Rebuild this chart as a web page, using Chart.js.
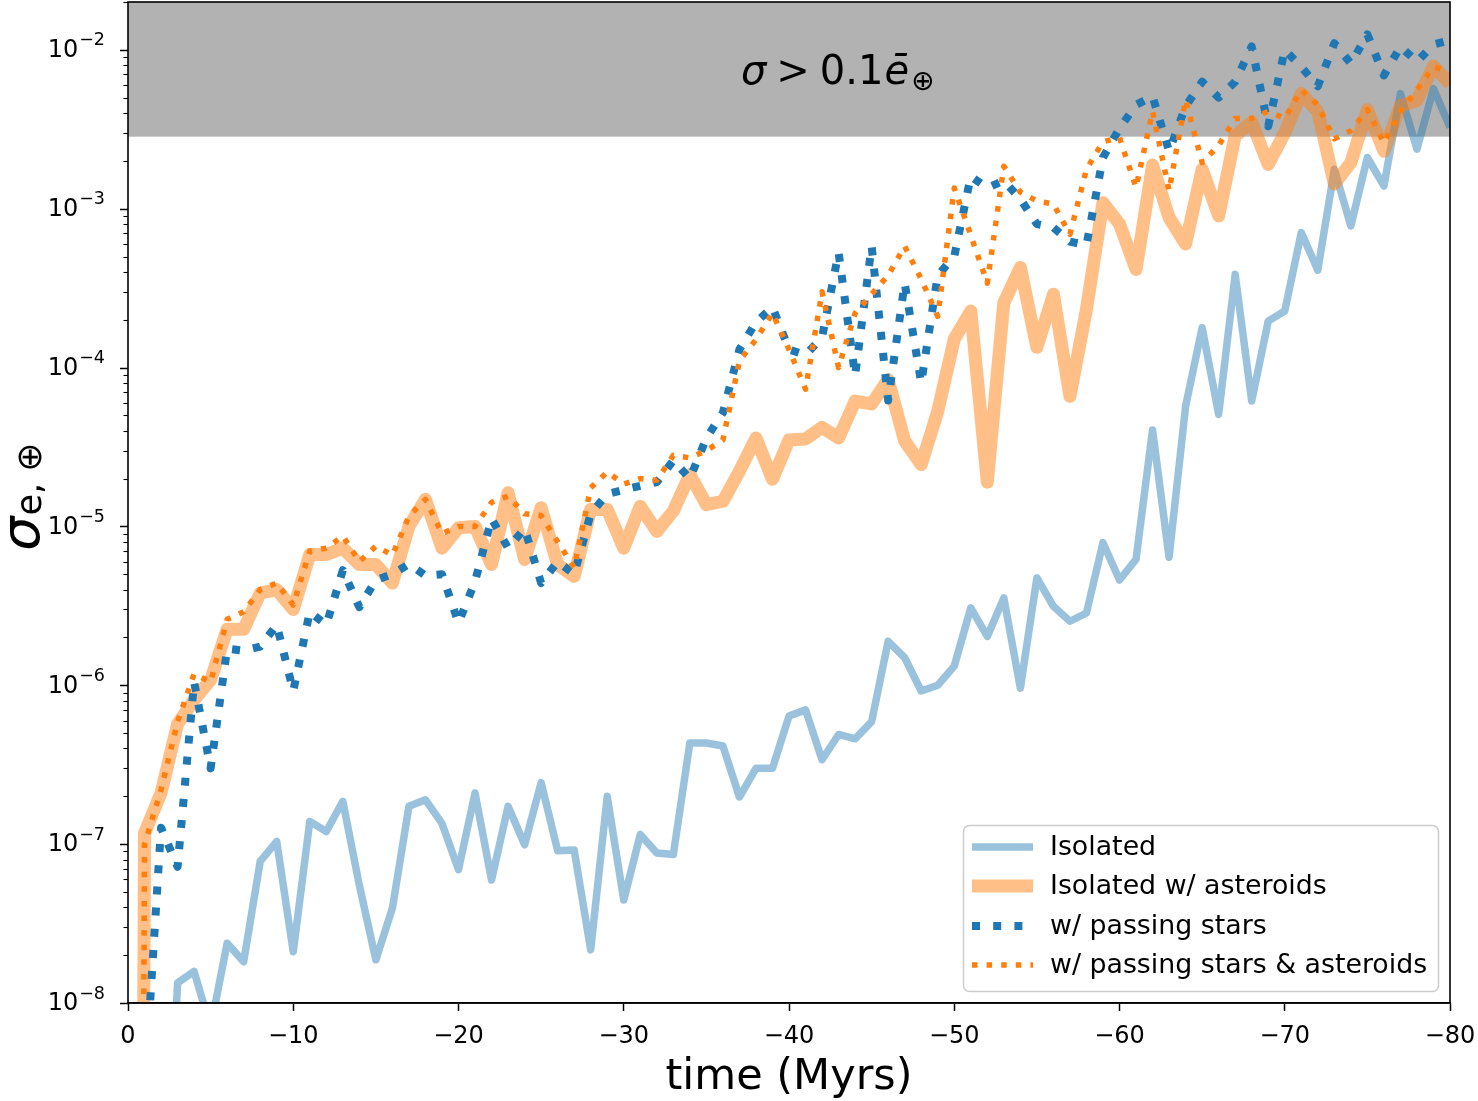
<!DOCTYPE html>
<html>
<head>
<meta charset="utf-8">
<script src="https://cdn.jsdelivr.net/npm/chart.js@4.4.1/dist/chart.umd.min.js"></script>
<style>
  html, body { margin: 0; padding: 0; background: #fff; }
  canvas { display: block; }
</style>
</head>
<body>
<canvas id="chart" width="1478" height="1101"></canvas>
<script>
// time in Myrs (0 .. -80)
const times = [0, -1, -2, -3, -4, -5, -6, -7, -8, -9, -10, -11, -12, -13, -14, -15, -16, -17, -18, -19, -20,
  -21, -22, -23, -24, -25, -26, -27, -28, -29, -30, -31, -32, -33, -34, -35, -36, -37, -38, -39, -40,
  -41, -42, -43, -44, -45, -46, -47, -48, -49, -50, -51, -52, -53, -54, -55, -56, -57, -58, -59, -60,
  -61, -62, -63, -64, -65, -66, -67, -68, -69, -70, -71, -72, -73, -74, -75, -76, -77, -78, -79, -80];

// sigma_e values (1e-30 stands for zero at t = 0)
const isolated = [1e-30, 1e-10, 1e-10, 1.34e-8, 1.58e-8, 7e-9, 2.38e-8, 1.82e-8, 7.8e-8, 1.04e-7, 2.1e-8,
  1.39e-7, 1.2e-7, 1.86e-7, 5.5e-8, 1.87e-8, 3.95e-8, 1.73e-7, 1.9e-7, 1.35e-7, 6.9e-8,
  2.1e-7, 5.95e-8, 1.73e-7, 9.9e-8, 2.44e-7, 9.1e-8, 9.2e-8, 2.16e-8, 2.0e-7, 4.45e-8,
  1.15e-7, 8.8e-8, 8.6e-8, 4.33e-7, 4.33e-7, 4.15e-7, 1.98e-7, 3.0e-7, 3.0e-7, 6.4e-7,
  7.0e-7, 3.4e-7, 4.9e-7, 4.6e-7, 5.9e-7, 1.89e-6, 1.49e-6, 9.2e-7, 1.0e-6, 1.32e-6,
  3.07e-6, 2.03e-6, 3.55e-6, 9.6e-7, 4.74e-6, 3.14e-6, 2.53e-6, 2.85e-6, 7.9e-6, 4.6e-6,
  6.2e-6, 4.05e-5, 6.4e-6, 5.7e-5, 1.78e-4, 5.07e-5, 3.86e-4, 6.15e-5, 1.96e-4, 2.27e-4,
  7.07e-4, 4.1e-4, 1.77e-3, 7.8e-4, 2.1e-3, 1.39e-3, 5.3e-3, 2.37e-3, 5.7e-3, 3.25e-3];

const isolatedAsteroids = [1e-30, 1.17e-7, 2.1e-7, 5.7e-7, 8.1e-7, 1.08e-6, 2.25e-6, 2.25e-6, 3.8e-6, 4.0e-6, 3.0e-6,
  6.65e-6, 6.65e-6, 7.3e-6, 5.75e-6, 5.75e-6, 4.4e-6, 1.0e-5, 1.48e-5, 7.3e-6, 9.8e-6,
  1.0e-5, 5.75e-6, 1.63e-5, 6.2e-6, 1.31e-5, 5.75e-6, 4.85e-6, 1.28e-5, 1.28e-5, 7.3e-6,
  1.34e-5, 9.3e-6, 1.25e-5, 2.12e-5, 1.37e-5, 1.44e-5, 2.23e-5, 3.6e-5, 1.98e-5, 3.5e-5,
  3.55e-5, 4.2e-5, 3.6e-5, 6.15e-5, 5.9e-5, 8.4e-5, 3.45e-5, 2.45e-5, 5.3e-5, 1.51e-4,
  2.27e-4, 1.9e-5, 2.56e-4, 4.27e-4, 1.34e-4, 2.89e-4, 6.6e-5, 2.33e-4, 1.09e-3, 8.0e-4,
  4.15e-4, 1.88e-3, 8.8e-4, 6.0e-4, 1.77e-3, 9.0e-4, 2.88e-3, 3.5e-3, 1.9e-3, 3.0e-3,
  5.3e-3, 4.1e-3, 1.43e-3, 1.95e-3, 4.2e-3, 2.3e-3, 4.45e-3, 4.8e-3, 7.9e-3, 6.1e-3];

const passingStars = [1e-30, 2.8e-9, 1.27e-7, 7.2e-8, 1.05e-6, 3.0e-7, 1.7e-6, 1.65e-6, 1.75e-6, 2.4e-6, 9.2e-7,
  2.9e-6, 2.4e-6, 5.3e-6, 3.1e-6, 4.6e-6, 5.0e-6, 5.8e-6, 4.9e-6, 5.0e-6, 2.47e-6,
  4.5e-6, 1.12e-5, 7.3e-6, 9.7e-6, 4.4e-6, 6.0e-6, 5.0e-6, 1.2e-5, 1.6e-5, 1.7e-5,
  1.8e-5, 1.9e-5, 2.6e-5, 2.0e-5, 3.6e-5, 5.2e-5, 1.3e-4, 1.93e-4, 2.4e-4, 1.3e-4,
  1.2e-4, 1.55e-4, 5.3e-4, 8.9e-5, 5.8e-4, 6.2e-5, 3.4e-4, 8.0e-5, 3.8e-4, 5.0e-4,
  1.6e-3, 1.35e-3, 1.5e-3, 1.15e-3, 8.0e-4, 7.6e-4, 6.2e-4, 5.9e-4, 2.1e-3, 3.2e-3,
  4.5e-3, 5.1e-3, 2.3e-3, 4.4e-3, 6.3e-3, 5.0e-3, 6.3e-3, 1.05e-2, 3.3e-3, 1.0e-2,
  7.8e-3, 5.9e-3, 1.1e-2, 8.2e-3, 1.25e-2, 6.9e-3, 1.05e-2, 8.4e-3, 1.08e-2, 1.15e-2];

const passingStarsAsteroids = [1e-30, 1.0e-7, 2.2e-7, 5.9e-7, 1.18e-6, 1.05e-6, 2.6e-6, 2.9e-6, 4.0e-6, 4.4e-6, 3.2e-6,
  7.0e-6, 7.3e-6, 8.7e-6, 6.0e-6, 7.5e-6, 6.6e-6, 1.16e-5, 1.48e-5, 9.0e-6, 1.0e-5,
  1.0e-5, 1.42e-5, 1.55e-5, 1.2e-5, 1.17e-5, 8.0e-6, 5.5e-6, 1.75e-5, 2.2e-5, 1.85e-5,
  2.0e-5, 1.95e-5, 2.8e-5, 2.7e-5, 3.0e-5, 3.5e-5, 1.1e-4, 1.5e-4, 2.2e-4, 1.3e-4,
  7.3e-5, 3.0e-4, 1.0e-4, 2.2e-4, 2.9e-4, 3.8e-4, 5.8e-4, 3.6e-4, 2.1e-4, 1.35e-3,
  6.8e-4, 3.4e-4, 1.85e-3, 1.27e-3, 1.12e-3, 1.07e-3, 6.9e-4, 1.77e-3, 2.64e-3, 2.8e-3,
  1.36e-3, 4.1e-3, 1.3e-3, 4.85e-3, 1.95e-3, 2.5e-3, 3.7e-3, 3.7e-3, 4.1e-3, 3.7e-3,
  5.6e-3, 4.5e-3, 2.75e-3, 3.1e-3, 4.2e-3, 2.6e-3, 4.1e-3, 5.6e-3, 7.8e-3, 7.3e-3];

const seriesLabels = ['Isolated', 'Isolated w/ asteroids', 'w/ passing stars', 'w/ passing stars & asteroids'];
const xTicks = [0, -10, -20, -30, -40, -50, -60, -70, -80];
const yDecades = [-8, -7, -6, -5, -4, -3, -2];
const spanBottom = 2.84e-3;   // sigma > 0.1 * mean e
const yMin = 1e-8, yMax = 0.02;

const FONT = "'DejaVu Sans', sans-serif";
Chart.defaults.font.family = FONT;

function pts(arr) {
  return times.map((t, i) => ({ x: t, y: arr[i] }));
}

const deco = {
  id: 'deco',
  beforeDatasetsDraw(chart) {
    const { ctx, chartArea: a, scales: { y } } = chart;
    const yb = y.getPixelForValue(spanBottom);
    ctx.save();
    ctx.fillStyle = 'rgb(178,178,178)';
    ctx.fillRect(a.left, a.top, a.right - a.left, yb - a.top);
    ctx.restore();
  },
  afterDatasetsDraw(chart) {
    const { ctx, chartArea: a } = chart;
    ctx.save();
    ctx.fillStyle = '#000';
    ctx.textBaseline = 'alphabetic';
    let x = 741, base = 84;
    ctx.font = 'italic 40px ' + FONT;
    ctx.fillText('σ', x, base); x += ctx.measureText('σ').width + 10;
    ctx.font = '40px ' + FONT;
    ctx.fillText('>', x, base); x += ctx.measureText('>').width + 10;
    ctx.fillText('0.1', x, base); x += ctx.measureText('0.1').width + 1;
    ctx.font = 'italic 40px ' + FONT;
    ctx.fillText('ē', x, base); x += ctx.measureText('ē').width + 2;
    ctx.font = '28px ' + FONT;
    ctx.fillText('⊕', x, base + 6);
    // frame
    ctx.strokeStyle = '#000';
    ctx.lineWidth = 1.6;
    ctx.strokeRect(a.left, a.top, a.right - a.left, a.bottom - a.top);
    ctx.restore();
  },
  afterDraw(chart) {
    const { ctx, chartArea: a, scales: { y } } = chart;
    ctx.save();
    ctx.strokeStyle = '#000';
    ctx.fillStyle = '#000';
    ctx.lineWidth = 1.5;
    // y ticks (log axis)
    yDecades.forEach(d => {
      for (let m = 1; m <= 9; m++) {
        const v = m * Math.pow(10, d);
        if (v > yMax * 1.0001) break;
        const py = Math.round(y.getPixelForValue(v)) + 0.5;
        const len = m === 1 ? 8 : 4.5;
        ctx.lineWidth = m === 1 ? 1.5 : 1.1;
        ctx.beginPath();
        ctx.moveTo(a.left, py);
        ctx.lineTo(a.left - len, py);
        ctx.stroke();
      }
      const py = y.getPixelForValue(Math.pow(10, d));
      ctx.font = '24px ' + FONT;
      const w1 = ctx.measureText('10').width;
      ctx.font = '17.5px ' + FONT;
      const sup = '\u2212' + Math.abs(d);
      const w2 = ctx.measureText(sup).width;
      const x0 = 104 - w1 - w2;
      ctx.textBaseline = 'middle';
      ctx.font = '24px ' + FONT;
      ctx.fillText('10', x0, py + 1);
      ctx.font = '17.5px ' + FONT;
      ctx.fillText(sup, x0 + w1 + 1, py - 9);
    });

    // axis titles
    ctx.textAlign = 'center';
    ctx.textBaseline = 'middle';
    ctx.font = '43px ' + FONT;
    ctx.fillText('time (Myrs)', (a.left + a.right) / 2, 1078);

    ctx.save();
    ctx.translate(0, 497);
    ctx.rotate(-Math.PI / 2);
    ctx.textAlign = 'left';
    ctx.textBaseline = 'alphabetic';
    ctx.font = 'italic 54px ' + FONT;
    const ws = ctx.measureText('σ').width;
    ctx.font = '35px ' + FONT;
    const wsub = ctx.measureText('e, ⊕').width;
    const sx = -(ws + wsub) / 2;
    ctx.font = 'italic 54px ' + FONT;
    ctx.fillText('σ', sx, 39);
    ctx.font = '35px ' + FONT;
    ctx.fillText('e, ⊕', sx + ws + 1, 41);
    ctx.restore();

    // legend
    const lx = 963.5, ly = 825.5, lw = 475, lh = 166;
    ctx.beginPath();
    ctx.roundRect(lx, ly, lw, lh, 6);
    ctx.fillStyle = 'rgba(255,255,255,0.8)';
    ctx.fill();
    ctx.strokeStyle = '#cccccc';
    ctx.lineWidth = 1.5;
    ctx.stroke();
    const rows = [847, 886, 926, 965];
    chart.data.datasets.forEach((ds, i) => {
      ctx.save();
      ctx.beginPath();
      ctx.strokeStyle = ds.borderColor;
      ctx.lineWidth = ds.borderWidth;
      ctx.lineCap = 'butt';
      ctx.setLineDash(ds.borderDash || []);
      ctx.moveTo(972, rows[i]);
      ctx.lineTo(1033, rows[i]);
      ctx.stroke();
      ctx.restore();
      ctx.fillStyle = '#000';
      ctx.textAlign = 'left';
      ctx.textBaseline = 'middle';
      ctx.font = '26.8px ' + FONT;
      ctx.fillText(ds.label, 1050, rows[i] + 1);
    });
    ctx.restore();
  }
};

new Chart(document.getElementById('chart'), {
  type: 'line',
  data: {
    datasets: [
      { label: seriesLabels[0], data: pts(isolated), borderColor: 'rgba(31,119,180,0.45)', borderWidth: 7.5, order: 4 },
      { label: seriesLabels[1], data: pts(isolatedAsteroids), borderColor: 'rgba(255,127,14,0.5)', borderWidth: 13, order: 3 },
      { label: seriesLabels[2], data: pts(passingStars), borderColor: '#1f77b4', borderWidth: 8, borderDash: [8, 13.2], order: 2 },
      { label: seriesLabels[3], data: pts(passingStarsAsteroids), borderColor: '#ff7f0e', borderWidth: 5.5, borderDash: [5.5, 9.1], order: 1 }
    ]
  },
  options: {
    responsive: false,
    animation: false,
    devicePixelRatio: 1,
    layout: { padding: { top: 2, right: 28, left: 0, bottom: 0 } },
    elements: {
      point: { radius: 0, hoverRadius: 0 },
      line: { tension: 0, fill: false, borderCapStyle: 'butt', borderJoinStyle: 'round' }
    },
    datasets: { line: { clip: 0 } },
    plugins: { legend: { display: false }, tooltip: { enabled: false } },
    scales: {
      x: {
        type: 'linear',
        reverse: true,
        min: -80,
        max: 0,
        afterBuildTicks(s) { s.ticks = xTicks.map(v => ({ value: v })); },
        afterFit(s) { s.height = 98; s.paddingLeft = 0; s.paddingRight = 0; },
        ticks: {
          color: '#000',
          font: { size: 24, family: FONT },
          padding: 11,
          maxRotation: 0,
          callback: v => v === 0 ? '0' : '\u2212' + Math.abs(v)
        },
        grid: { drawOnChartArea: false, drawTicks: true, tickLength: 8, tickColor: '#000', tickWidth: 1.5 },
        border: { display: true, color: '#000', width: 1.5 }
      },
      y: {
        type: 'logarithmic',
        min: yMin,
        max: yMax,
        afterFit(s) { s.width = 128; },
        ticks: { display: false },
        grid: { display: false },
        border: { display: false }
      }
    }
  },
  plugins: [deco]
});
</script>
</body>
</html>
